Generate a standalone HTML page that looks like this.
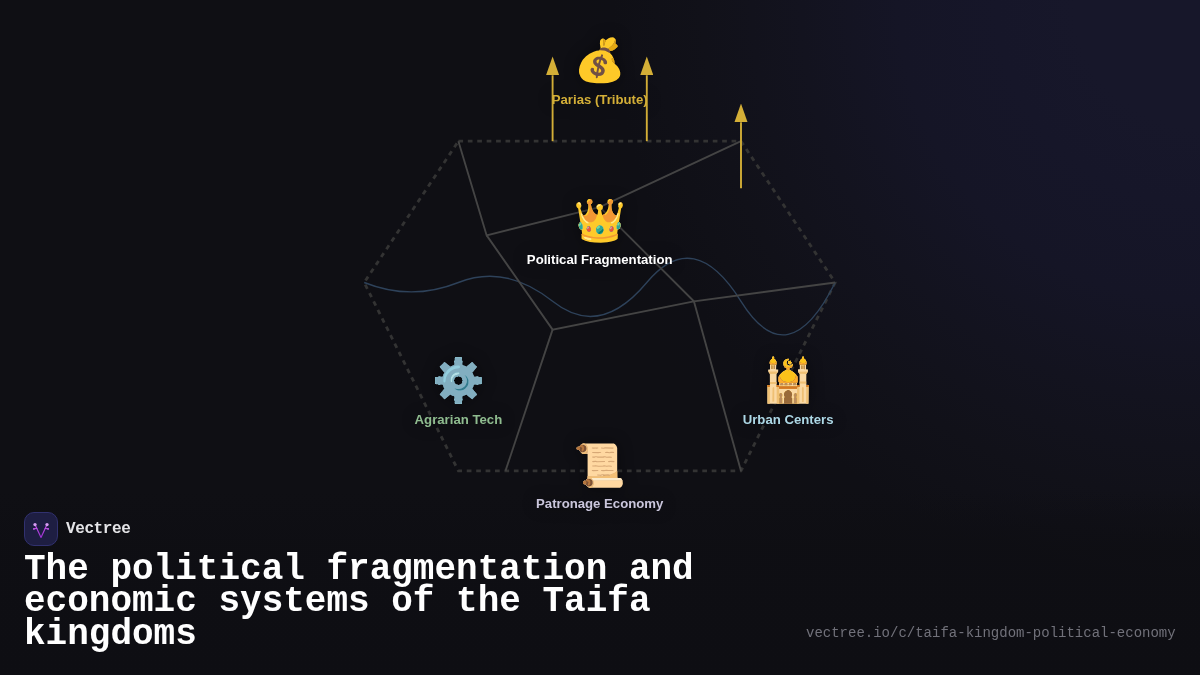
<!DOCTYPE html>
<html lang="en">
<head>
<meta charset="utf-8">
<title>The political fragmentation and economic systems of the Taifa kingdoms</title>
<style>
*{box-sizing:border-box;margin:0;padding:0}
html,body{width:1200px;height:675px;overflow:hidden;background:#0f0f14}
body{position:relative;font-family:"Liberation Sans",Arial,Helvetica,sans-serif}
.bg{position:absolute;left:0;top:0;width:1200px;height:675px;background:
  radial-gradient(circle 700px at 100% 0%, #17172a 0, #17172a 18%, #161629 29%, #151526 43%, #13131f 57%, #111119 71%, #0f0f15 84%, #0f0f14 92%),
  #0f0f14}
.diagram{position:absolute;left:270.3px;top:47.1px;width:659.4px;height:471px;overflow:visible}
.diagram text{text-anchor:middle}
.l{font-family:"Liberation Sans",Arial,Helvetica,sans-serif;font-size:7px;font-weight:700}
.n{filter:drop-shadow(0 0 4px rgba(0,0,0,.45))}
.fade{position:absolute;left:0;right:0;bottom:0;height:185px;background:linear-gradient(to bottom,rgba(14,14,19,0) 0,rgba(14,14,19,.75) 30%,rgba(14,14,19,.95) 100%)}
.brand,h1,.url{will-change:transform}
.brand{position:absolute;left:24px;top:512px;height:34px;display:flex;align-items:center}
.logo{width:34px;height:34px;border-radius:10px;background:#1e1e42;border:1px solid #31316f;display:block;position:relative}
.logo svg{position:absolute;left:6px;top:6px;width:20px;height:20px;overflow:visible}
.brand span{font-family:"Liberation Mono",monospace;font-weight:700;font-size:16px;letter-spacing:-0.4px;color:#e4e4e7;margin-left:8px}
h1{position:absolute;left:24px;top:553.7px;font-family:"Liberation Mono",monospace;font-weight:700;font-size:36px;line-height:32.4px;color:#fff;white-space:nowrap}
.url{position:absolute;right:24px;top:624px;font-family:"Liberation Mono",monospace;font-size:14px;line-height:18px;color:#71717a;white-space:nowrap}
</style>
</head>
<body>
<div class="bg"></div>
<div class="fade"></div>
<svg class="diagram" viewBox="0 0 350 250">
<defs><marker id="ah" markerWidth="10" markerHeight="7" refX="0" refY="3.5" orient="auto"><polygon points="0 0, 10 3.5, 0 7" fill="#d4af37"/></marker></defs>
<g fill="none">
<polygon points="100,50 250,50 300,125 250,225 100,225 50,125" stroke="#333" stroke-width="1.5" stroke-dasharray="2.5,2.5"/>
<path d="M50,125 Q75,135 100,125 T150,135 T200,125 T250,135 T300,125" stroke="#2e425a" stroke-width="0.72"/>
<g stroke="#444" stroke-width="1">
<path d="M100,50 L115,100 L175,85 L250,50"/>
<path d="M115,100 L150,150 L225,135 L300,125"/>
<path d="M175,85 L225,135 L250,225"/>
<path d="M150,150 L125,225"/>
</g>
<g stroke="#d4af37" stroke-width="1">
<line x1="150" y1="50" x2="150" y2="15" marker-end="url(#ah)"/>
<line x1="200" y1="50" x2="200" y2="15" marker-end="url(#ah)"/>
<line x1="250" y1="75" x2="250" y2="40" marker-end="url(#ah)"/>
</g>
</g>
<g class="n"><svg x="161.126" y="-5.958" width="27.749" height="26.117" viewBox="0 0 544 512" role="img" aria-label="💰 money bag" fill-rule="evenodd"><path fill="#fec928" d="M421,20l-11,-4-27 1-19 8-28 21-25,-17-13 0-14 9-8 15-2 30 6 38 4 8-10 10-2 9-6 4-26 4-30 9-44 21-36 26-34 38-16 27-16 39-7 36 0 26 3 18 13 31 11 15 18 17 28 16 43 12 67 8 75 0 41,-4 52,-12 36,-16 27,-23 12,-22 3,-14 0,-21-7,-28-9,-18-14,-19-28,-26-5,-36-8,-25-15,-28-19,-22-2,-19 3,-3 17,-4 26,-13 16,-11 14,-14 3,-8-3,-10-20,-18 4,-36-4,-11z"/><path fill="#715045" d="M401,235l-4 5 3 20 12 18 9 9 6 1-4,-32-5,-17-9,-4zM294,192l-5 2-6 19-5 5-29 0-15 5-19 15-10 15-2 21 5 16 18 21 22 16-10 51-2 2-8,-2-12,-12-3,-7-1,-18-6,-7-17,-1-12 13 0 16 4 12 11 15 16 14 25 12-1 24 4 2 13,-1 5,-21 31,-3 20,-10 7,-7 10,-19 3,-20-7,-22-14,-17-29,-21 12,-44 4,-4 4 1 14 12 3 22 10 9 17 0 8,-6 2,-6-1,-16-5,-12-15,-16-27,-16 7,-25zM266,339l6 1 11 11 4 10 0 10-10 12-15 3-4,-3zM266,246l3 4-13 38-4 0-12,-13-1,-15 15,-13zM437,40l-5 4-9 27-19 28-42 37-19,-9-16,-4-25 0-18 6-10 10-2 9 6 3 36 2 15 4 46 22 6,-1-2,-16 3,-3 35,-12 24,-16 14,-14 3,-8-3,-10-20,-18 4,-21zM319,33l-7 8-4 17 1 29 3 13 4 4 4,-3 4,-22 11,-31z"/><path fill="#e4a811" d="M401,235l-4 5 3 20 12 18 9 9 6 1-4,-32-5,-17-9,-4zM436,39l-4 5-9 27-19 28-41 36 18 24 18,-4 18,-8 24,-16 14,-14 3,-8-3,-10-20,-18 4,-21 0,-15zM319,33l-7 8-4 17 1 29 3 13 4 4 4,-3 4,-22 11,-31z"/></svg><text class="l" x="175" y="30.10" fill="#d4af37">Parias (Tribute)</text></g>
<g class="n"><svg x="161.126" y="79.042" width="27.749" height="26.117" viewBox="0 0 544 512" role="img" aria-label="👑 crown" fill-rule="evenodd"><path fill="#feca2a" d="M35,75l-7 14 0 16 8 16 12 9 22 138-1 5-13 14-3 16 1 12 6 19 11 12 9 3 4 5 5 38-6 8 0 42 6 9 33 15 48 13 50 7 63 2 68,-5 41,-8 38,-12 19,-9 10,-8 2,-45-7,-11 5,-35 4,-7 11,-5 8,-10 5,-11 2,-14-2,-21-14,-19 22,-138 12,-12 6,-18-2,-18-7,-10-10,-5-12 1-11 9-5 9-2 23 7 17-15 60-9 18-5 0-18,-11-12,-14-9,-18-8,-33-1,-39 13,-14 3,-21-6,-12-14,-10-18 0-9 5-10 13 1 23 14 16-10 44-10 23-11 16-15 15-19 11-7,-5-9,-44 16,-16 3,-22-7,-15-16,-12-23 0-11 7-9 11-3 12 3 18 16 17-4 31-5 16-4 1-11,-6-24,-23-17,-33-11,-47 11,-10 5,-12-1,-16-11,-14-15,-5-11 1-8 4-10 13-2 6 2 18 15 17-4 49-7 24-8 16-14 16-16 9-7 0-4,-4-23,-67-1,-8 6,-7 5,-15-5,-22-9,-10-10,-4-13 1z"/><path fill="#f29734" d="M83,400l0 5 35 18-10 7 0 7 9 10 17 8 28 6 21,-2 5,-7-5,-11 5,-2 59 7 53 0 32,-3 67,-13 35,-12 27,-13-7,-14-27 13-68 19-58 7-59 0-35,-3-58,-12-34,-12-24,-12zM402,316l-8 0-11 8-5 9 0 8-5 7 3 18 10 8 9 0 10,-5 10,-14 2,-9-2,-16-3,-6zM157,316l-8 3-7 8-6 15 0 8 10 17 12 7 8 0 6,-3 7,-9 0,-22-8,-19-6,-5zM268,306l-13 8-19 21-2 13 2 22 4 9 11 12 15 6 17 2 14,-8 6,-8-1,-3 8,-18 1,-26-8,-15-8,-8-9,-5zM69,272l-13 15-3 16 1 12 10 24 7 7 13 5 6,-3 5,-8 0,-28-4,-18-6,-7-2,-9zM474,271l-8 1-7 6-5 20-6 10 0 32 5 7 7 3 16,-9 11,-19 2,-14-2,-21zM279,93l-4,-3-9 0-12 5-12 15 2 7 6 3 11,-12 16,-5 3,-5zM497,68l-15 0-11 9-4 7 6 15 5 0 8,-11 11,-6zM53,67l-6 8 1 7 11 6 7 10 5 2 6,-8-6,-7 1,-10-7,-6zM385,32l2 12-14 8-11 13-10,-2 4 14 12 12-4 19 9,-1 3 6-5 29-12 29-24 28-6 1-5,-3 0,-12-16 11-8 2 13 37 21 29 19 11 19 0 19,-5-3 14 4 3 10 0 20,-12 25,-29 14,-29 10,-36-5,-2-10 5-6 17-8 3-18,-11-12,-14-13,-31-5,-33 0,-26 13,-14 3,-21-3,-8-8,-9zM420,252l0 5-20 15-7,-2 3,-5 18,-13zM171,32l3 8-4 7-12 5-9 12-11,-1 2 10 15 17-1 19 7,-2 4 4-3 11 3 7-3 28-6 21-9 16-18 14-7 0-4,-11-17 8-1 5-3 1-6,-6 3,-10-6,-13-8,-3-6 3 11 39 15 29 23 25 25 13 9,-5-2,-12 15 4 18 0 23,-12 15,-17 8,-14 11,-35-13,-6-21,-19-16,-27-8,-22-7,-35 15,-17 1,-16-5,-12-7,-7z"/><path fill="#ffee88" d="M108,430l0 7 9 10 31 12 29 2 6,-2 5,-7-5,-11-34,-7-29,-10zM402,316l-8 0-11 8-5 9 0 8-5 7 3 18 10 8 9 0 10,-5 10,-14 2,-9-2,-16-3,-6zM157,316l-8 3-7 8-6 15 0 8 10 17 12 7 8 0 6,-3 7,-9 0,-22-8,-19-6,-5zM268,306l-13 8-19 21-2 13 2 22 4 9 11 12 15 6 17 2 14,-8 6,-8-1,-3 8,-18 1,-26-8,-15-8,-8-9,-5zM69,272l-13 15-3 16 1 12 10 24 7 7 13 5 6,-3 5,-8 0,-28-4,-18-6,-7-2,-9zM474,271l-8 1-7 6-5 20-6 10 0 32 5 7 7 3 16,-9 11,-19 2,-14-2,-21zM470,180l-4,-1-10 5-7 18 0 7-12 22-17 21 0 5-20 15-8,-1-4 7 2 8 15 0 17,-11 17,-17 19,-33 13,-38zM76,180l-2 2 2 12 9 27 20 36 28 25 15 6 7,-2 2,-7-3,-7-19,-11-16,-16-20,-34-8,-6 3,-10-6,-13zM279,93l-4,-3-9 0-12 5-12 15 2 7 6 3 11,-12 16,-5 3,-5zM497,68l-15 0-11 9-4 7 6 15 5 0 8,-11 11,-6zM53,67l-6 8 1 7 11 6 7 10 5 2 6,-8-6,-7 1,-10-7,-6z"/><path fill="#2ca898" d="M402,316l-8 0-11 8-5 9 0 8-5 7 3 18 10 8 9 0 10,-5 10,-14 2,-9-2,-16-3,-6zM157,316l-8 3-7 8-6 15 0 8 10 17 12 7 8 0 6,-3 7,-9 0,-22-8,-19-6,-5zM268,306l-13 8-19 21-2 13 2 22 4 9 11 12 15 6 17 2 14,-8 6,-8-1,-3 8,-18 1,-26-8,-15-8,-8-9,-5zM69,272l-13 15-3 16 1 12 10 24 7 7 13 5 6,-3 5,-8 0,-28-4,-18-6,-7-2,-9zM474,271l-8 1-7 6-5 20-6 10 0 32 5 7 7 3 16,-9 11,-19 2,-14-2,-21z"/><path fill="#f54f37" d="M310,346l-10,-1-19 19-18 9-7 7 1 13 9 4 8 0 7,-6 4 1 11,-11 7,-2 7,-17zM402,316l-8 0-11 8-5 9 0 8-5 7 3 18 10 8 9 0 10,-5 10,-14 2,-9-2,-16-3,-6zM157,316l-8 3-7 8-6 15 0 8 10 17 12 7 8 0 6,-3 7,-9 0,-22-8,-19-6,-5zM272,316l-9,-5-8 3-13 14 2 14 7 3 17,-10 7,-8 0,-7zM84,285l-12,-2-6 3-7 8-5 1-1 11 9 6 4,-1 17,-19zM480,282l-10,-2-14 10-2 10 7 10 4 0 14,-15z"/><path fill="#5de4ab" d="M310,346l-10,-1-19 19-18 9-7 7 1 13 9 4 8 0 7,-6 4 1 11,-11 7,-2 7,-17zM393,318l-5 1-10 14-1 9 6 5 7 0 9,-11 0,-12zM156,317l-7 2-10 13 0 6 7 6 6,-2 7,-8 2,-9zM272,316l-9,-5-8 3-13 14 2 14 7 3 17,-10 7,-8 0,-7zM84,285l-12,-2-6 3-7 8-5 1-1 11 9 6 4,-1 17,-19zM480,282l-10,-2-14 10-2 10 7 10 4 0 14,-15z"/><path fill="#058073" d="M310,346l-10,-1-19 19-18 9-7 7 1 13 9 4 8 0 7,-6 4 1 11,-11 7,-2 7,-17zM393,318l-5 1-10 14-1 9 6 5 7 0 9,-11 0,-12zM156,317l-7 2-10 13 0 6 7 6 6,-2 7,-8 2,-9z"/><path fill="#fc908a" d="M393,318l-5 1-10 14-1 9 6 5 7 0 9,-11 0,-12zM156,317l-7 2-10 13 0 6 7 6 6,-2 7,-8 2,-9z"/></svg><text class="l" x="175" y="115.10" fill="#ffffff">Political Fragmentation</text></g>
<g class="n"><svg x="86.126" y="164.042" width="27.749" height="26.117" viewBox="0 0 544 512" role="img" aria-label="⚙️ gear" fill-rule="evenodd"><path fill="#82aec0" d="M237,16l-9 75-4 4-36 14-61,-47-47 45-2 4 2 5 39 47 6 11-9 17-4 15-5 6-75 9 0 69 75 9 4 4 14 36-47 61 45 47 4 2 5,-2 47,-39 11,-6 17 9 15 4 6 5 9 75 65 1 4,-1 2,-5 7,-70 4,-4 36,-14 61 47 47,-45 2,-4-2,-5-39,-47-6,-11 9,-17 4,-15 5,-6 75,-9 0,-69-75,-9-4,-4-14,-36 47,-61-45,-47-4,-2-5 2-47 39-11 6-17,-9-15,-4-6,-5-9,-75zM270,210l15 2 13 7 14 16 5 19-2 15-7 13-16 14-19 5-15,-2-13,-7-14,-16-5,-19 2,-15 7,-13 16,-14z"/><path fill="#86b3c5" d="M234,476l2 18 5 2 65,-1 3,-19-5,-5-2 2 1 13-5 5-53 0-4,-3 0,-16-2,-1zM308,434l-3 9 1 19 5 1 2,-25zM236,434l-6 4 2 25 5,-1zM363,408l52 41 13,-10-6,-1-8 3-40,-33zM178,408l-9 0-39 33-15,-2 13 10zM351,398l-3,-1-16 10-6 0-5 8 30,-12zM192,398l3 7 23 10 5,-1-7,-8-13,-3-8,-6zM419,345l-1 5 16 17 20 27 6 3-7 9 1 7 11,-13-2,-5-39,-48zM124,345l-5 2-39 48-2 5 11 13 1,-8-6,-8 21,-22-1,-8 8,-2 7,-7 2,-6 4,-2zM424,323l-7 3-3 8 5 1zM429,303l-7 8 5 9 5,-16zM111,304l11 28 6 3 2,-3-5,-10-6,-3 2,-8-6,-8zM243,290l-1 5 6 6 9 4 10,-1 1,-4-10,-1zM449,292l7 5 24,-2-3,-5-18,-1zM94,291l-28,-1-2 5 23 2zM302,288l-10 8-16 4 0 3 11 2 15,-10zM319,260l-3 0-7 23 8,-4 5,-10zM224,260l-2 11 8 13 7 2-9,-17-1,-9zM308,229l7 13 1 9 5,-1 1,-8-8,-13zM235,229l-9 3-4 12 2 7 3 0 1,-9zM493,218l-7 5 2 2 18 2 0 57-20 4 7 5 18,-3 0,-69zM45,218l-13 3 0 69 18 3 7,-6-11,-2-4 2-5,-3 0,-57 5,-3 4 2 12,-3zM449,219l10 3 19,-1 2,-5-24,-2zM94,218l-7,-4-23 2 1 5 19 1 8,-1zM276,207l0 4 16 4 10 8 0,-7-15,-10zM267,207l-10,-1-9 4-7 6 0 7 10,-8 17,-4zM342,196l-4 3 13 18 9 25 0 27-12 31-15 19-24 17-28 8-23 0-10,-5-17,-3 9 10 20 10 17 3 21 0 29,-9 18,-12 22,-26 9,-24 1,-38-15,-32zM427,191l-5 9 5 7 5 1zM413,177l4 8 7 3-5,-12zM282,172l-6,-3-31 3-23 12-14 14-11 18-5 16-3 27 5 10 8 2 5,-4 5,-30 8,-17 14,-14 12,-7 35,-9 4,-7zM457,101l-1 9 4 4-6 3 0 3-16 16 0 4-14 13 0 5-6 3 1 5 5,-2 39,-48 2,-5zM86,101l-8 10 2 5 39 48 6 0-13,-18-8,-2 1,-8-16,-19-6,-3 5,-6zM321,96l5 8 8,-1 4 6 10 5 3,-1 0,-5zM282,100l-25,-2-27 6-7,-9-16 5-15 8 2 5 3 0 1,-5 6 5-27 17-20 19-25 37-3 1-2,-3 3,-6-6,-2-12 26 1 2 11,-6 2 4-4 6-6 33 0 25 5 7 7 1 8,-5 8,-49 16,-31 32,-33 27,-16 21,-8 36,-4 7,-3 5,-6 0,-13zM428,72l-13,-10-52 41 11 0 11,-10 1,-5 7,-1 21,-17zM116,71l5 2 9,-3 17 15 10 3 2 6 10 9 9 0-46,-39-5,-2zM311,48l-5 1-1 19 3 9 5,-5zM232,48l-2 24 5 5 3,-9-1,-19zM234,35l5 5 2,-1 0,-16 3,-2 55 0 4 5-1 12 2 2 5,-5-3,-19-69 0z"/><path fill="#93cedd" d="M308,483l-5 1-5 7-53 0-7,-7-3 0 1 10 5 2 61 0 5,-2zM312,446l-5 2 0 15 4 0zM231,446l1 17 4 0 1,-15zM283,300l-7 0 0 3 6 2zM261,299l0 6 6,-1 1,-4zM462,293l0 3 18,-1-3,-5zM64,291l0 4 17 1-2,-5zM316,260l-1 7 6 0 0,-6zM224,260l-2 7 6 0-1,-7zM315,244l1 7 5,-1 0,-6zM222,244l0 5 5 2 1,-7zM500,219l1 5 5 3 0 57-5 3-1 5 11,-2 0,-69zM32,221l0 69 12 2 0,-3-7,-5 0,-57 7,-5 0,-3zM462,218l3 3 13 0 2,-5-18,-1zM81,215l-17 1 0 4 15 1zM276,207l0 4 7 0-1,-5zM261,206l0 6 7,-1-1,-4zM342,196l-4 3 13 18 9 25 0 27-12 31-15 19-24 17-28 8-23 0-10,-5-17,-3 9 10 20 10 17 3 21 0 29,-9 18,-12 22,-26 9,-24 1,-38-15,-32zM282,172l-6,-3-31 3-23 12-14 14-11 18-5 16-3 27 5 10 8 2 5,-4 5,-30 8,-17 14,-14 12,-7 35,-9 4,-7zM279,98l-37 2-32 10-33 20-20 19-32 45 1 8-4 6-6 33 0 25 5 7 7 1 8,-5 8,-49 16,-31 32,-33 27,-16 21,-8 36,-4 7,-3 5,-6 0,-13zM308,48l-1 15 5 2-1,-17zM232,48l-1 17 6,-2 0,-14zM235,21l2 7 7,-7 55 0 4 6 5 1-2,-12-69 0z"/><path fill="#347b8d" d="M308,483l-5 1-5 7-53 0-7,-7-3 0 1 10 5 2 61 0 5,-2zM312,446l-5 2 0 15 4 0zM231,446l1 17 4 0 1,-15zM283,300l-7 0 0 3 6 2zM261,299l0 6 6,-1 1,-4zM462,293l0 3 18,-1-3,-5zM64,291l0 4 17 1-2,-5zM316,260l-1 7 6 0 0,-6zM224,260l-2 7 6 0-1,-7zM315,244l1 7 5,-1 0,-6zM222,244l0 5 5 2 1,-7zM500,219l1 5 5 3 0 57-5 3-1 5 11,-2 0,-69zM32,221l0 69 12 2 0,-3-7,-5 0,-57 7,-5 0,-3zM462,218l3 3 13 0 2,-5-18,-1zM81,215l-17 1 0 4 15 1zM276,207l0 4 7 0-1,-5zM261,206l0 6 7,-1-1,-4zM342,196l-4 3 13 18 9 25 0 27-12 31-15 19-24 17-28 8-23 0-10,-5-17,-3 9 10 20 10 17 3 21 0 29,-9 18,-12 22,-26 9,-24 1,-38-15,-32zM282,172l-6,-3-31 3-23 12-14 14-11 18-5 16-3 27 5 10 8 2 5,-4 5,-30 8,-17 14,-14 12,-7 35,-9 4,-7zM308,48l-1 15 5 2-1,-17zM232,48l-1 17 6,-2 0,-14zM235,21l2 7 7,-7 55 0 4 6 5 1-2,-12-69 0z"/><path fill="#b3dfe6" d="M308,483l-5 1-5 7-53 0-7,-7-3 0 1 10 5 2 61 0 5,-2zM312,446l-5 2 0 15 4 0zM231,446l1 17 4 0 1,-15zM283,300l-7 0 0 3 6 2zM261,299l0 6 6,-1 1,-4zM462,293l0 3 18,-1-3,-5zM64,291l0 4 17 1-2,-5zM316,260l-1 7 6 0 0,-6zM224,260l-2 7 6 0-1,-7zM315,244l1 7 5,-1 0,-6zM222,244l0 5 5 2 1,-7zM500,219l1 5 5 3 0 57-5 3-1 5 11,-2 0,-69zM32,221l0 69 12 2 0,-3-7,-5 0,-57 7,-5 0,-3zM462,218l3 3 13 0 2,-5-18,-1zM81,215l-17 1 0 4 15 1zM276,207l0 4 7 0-1,-5zM261,206l0 6 7,-1-1,-4zM338,197l6 9 5,-3-7,-7zM282,172l-6,-3-31 3-23 12-14 14-11 18-5 16-3 27 5 10 8 2 5,-4 5,-30 8,-17 14,-14 12,-7 35,-9 4,-7zM308,48l-1 15 5 2-1,-17zM232,48l-1 17 6,-2 0,-14zM235,21l2 7 7,-7 55 0 4 6 5 1-2,-12-69 0z"/><path fill="#8ab9cc" d="M308,483l-5 1-5 7-53 0-7,-7-3 0 1 10 5 2 61 0 5,-2zM312,446l-5 2 0 15 4 0zM231,446l1 17 4 0 1,-15zM283,300l-7 0 0 3 6 2zM261,299l0 6 6,-1 1,-4zM462,293l0 3 18,-1-3,-5zM64,291l0 4 17 1-2,-5zM316,260l-1 7 6 0 0,-6zM224,260l-2 7 6 0-1,-7zM315,244l1 7 5,-1 0,-6zM222,244l0 5 5 2 1,-7zM500,219l1 5 5 3 0 57-5 3-1 5 11,-2 0,-69zM32,221l0 69 12 2 0,-3-7,-5 0,-57 7,-5 0,-3zM462,218l3 3 13 0 2,-5-18,-1zM81,215l-17 1 0 4 15 1zM276,207l0 4 7 0-1,-5zM261,206l0 6 7,-1-1,-4zM338,197l6 9 5,-3-7,-7zM308,48l-1 15 5 2-1,-17zM232,48l-1 17 6,-2 0,-14zM235,21l2 7 7,-7 55 0 4 6 5 1-2,-12-69 0z"/><path fill="#468899" d="M338,197l6 9 5,-3-7,-7z"/></svg><text class="l" x="100" y="200.10" fill="#8fbc8f">Agrarian Tech</text></g>
<g class="n"><svg x="261.126" y="164.042" width="27.749" height="26.117" viewBox="0 0 544 512" role="img" aria-label="🕌 mosque" fill-rule="evenodd"><path fill="#fad9a4" d="M273,50l2 17-6 11 2 3 9 0 14 9 8,-13 10,-4 0,-4-10,-8-2,-13-5 0-5 4zM110,7l-4 6 2 12-18 18-9 20 3 22 0 52-4 3-13,-1-3 9 1 14 17 23 1 116-2 2-20 0-4 4 0 187 2 2 121 1 302,-1 2,-2 2,-192-25,-4 1,-112 16,-23 1,-22-20,-3 0,-50 3,-6 0,-23-12,-22-14,-11 2,-13-3,-5-5,-3-9 2-4 5 1 13-10 7-12 15-5 18 3 24 0 46-3 3-12 0-4 3 1 24 15 21 0 112-3 3-19 0-4,-3 0,-19 6,-12 3,-23-3,-24-9,-18-33,-34-46,-27 0,-11 23,-12 8,-9 5,-11 2,-14-4,-3-11 12-12 7-16,-1-16,-9-7,-12 1,-18 12,-17 16,-9-8,-5-9 0-16 4-11 7-11 13-5 14 0 22 5 16 8 11 23 14-1 11-44 26-31 31-8 15-4 15 0 28 7 22 0 21-3 3-21 0-3,-3 0,-114 17,-25 0,-19-19,-1-3,-4 4,-78-12,-19-15,-14 3,-5-1,-10-6,-5z"/><path fill="#efc074" d="M270,352l-30 19-11 23 1 16 10 15-10 14 0 58 84 0 0,-58-10,-11 10,-22-3,-22-14,-19-19,-12zM121,322l-4 0-7 10-2 142 3 2 17,-2 0,-144zM426,319l-10 11 0 147 2 2 14,-1 3,-6 0,-143zM61,303l-4 4 0 187 2 2 23 0 1,-172-2,-3 2,-12-1,-6zM463,300l-2 4-1 187 1 5 21 0 2,-2 2,-192zM390,301l-22,-1-3 3 1 9-7 6-176 0-4,-3-2,-13-22 0-2 2 0 186 2 6 56 1 0,-60-7,-8 0,-5 7,-7 0,-19-12,-14-6 0-10 9-3,-1-1,-48 3,-4 180 0 4 5-1 45-3 4-9,-9-8,-1-13 17 0 16 8 8-8 12 0 60 56,-1 2,-11zM360,421l4 3-2 8-6,-3zM182,420l6 5-1 5-4 3-4,-3 0,-7zM83,271l0 19 7 2 62,-2 0,-19-7,-2zM391,265l0 21 70 1 0,-23zM376,163l16 23 3,-2 67 2 15,-22-9,-2zM67,164l15 22 5,-2 7 2 59,-2 14,-19-8,-3-84 0zM435,96l-2 1 0 38 11 2 3,-2 1,-38zM408,97l-1 37 13 2 3,-3 0,-35zM124,96l-3 2 1 36 12 2 2,-2 0,-37zM98,96l-2 2 0 37 12 1 3,-3 0,-35zM273,50l2 17-6 11 2 3 9 0 14 9 8,-13 10,-4 0,-4-10,-8-2,-13-5 0-5 4zM251,33l-11 7-12 15-4 12 0 22 5 16 8 11 23 14-1 11-44 26-31 31-8 15-4 15 0 28 7 22 13 1 5 3-8 10-1 11 3 2 31,-1 2,-2-1,-11-6,-9 5,-3 12 0 5 3-7 13-1 7 4 3 31,-1 1,-12-6,-10 5,-3 14 0 5 3-8 12 2 10 35,-2-1,-10-6,-10 5,-3 17 1-5 9-2 13 35 1 3,-2-1,-7-7,-14 14,-2 7,-21 0,-27-6,-20-13,-18-25,-24-46,-27 0,-11 23,-12 8,-9 5,-11 2,-14-4,-3-11 12-12 7-12 0-14,-5-13,-17 0,-15 7,-14 22,-16-8,-4zM425,5l-8 7 1 13-14 11-12 20 0 30 3 3 3,-2 61 1 3,-6 0,-23-3,-9-9,-13-14,-11 2,-13-3,-5zM113,5l-7 8 2 12-15 14-9 14-3 10 2 21 6 3 60 0 3,-14-1,-15-12,-19-15,-14 3,-5-1,-10-6,-5z"/><path fill="#fcc21a" d="M345,384l-13 17 0 16 8 8-8 12 0 60 31 0 0,-59-2,-6-5,-3 0,-4 5,-4 3,-16-3,-12-8,-8zM193,384l-11 9 1 4-3 5 0 11 8 12-8 13 0 59 31 0 0,-60-7,-8 0,-5 7,-7 0,-19-10,-13zM270,352l-30 19-11 23 1 16 10 15-10 14 0 58 84 0 0,-58-10,-11 10,-22-3,-22-14,-19-19,-12zM58,305l0 16 24,-1 0,-17zM463,300l-1 20 23 0 0,-19zM391,303l-2,-3-21 0-3 3 1 9-7 6-176 0-4,-3-2,-13-22 0-2 18 24 2 2 15 3 3 180 0 3,-2 0,-13 6,-5 19,-1zM435,96l-2 1 0 38 11 2 3,-2 1,-38zM408,97l-1 37 13 2 3,-3 0,-35zM124,96l-3 2 1 36 12 2 2,-2 0,-37zM98,96l-2 2 0 37 12 1 3,-3 0,-35zM273,50l2 17-6 11 2 3 9 0 14 9 8,-13 10,-4 0,-4-10,-8-2,-13-5 0-5 4zM251,33l-11 7-12 15-4 12 0 22 5 16 8 11 23 14-1 11-44 26-31 31-8 15-4 15 0 28 7 22 13 1 5 3-8 10-1 11 3 2 31,-1 2,-2-1,-11-6,-9 5,-3 12 0 5 3-7 13-1 7 4 3 31,-1 1,-12-6,-10 5,-3 14 0 5 3-8 12 2 10 35,-2-1,-10-6,-10 5,-3 17 1-5 9-2 13 35 1 3,-2-1,-7-7,-14 14,-2 7,-21 0,-27-6,-20-13,-18-25,-24-46,-27 0,-11 23,-12 8,-9 5,-11 2,-14-4,-3-11 12-12 7-12 0-14,-5-13,-17 0,-15 7,-14 22,-16-8,-4zM425,5l-8 7 1 13-14 11-12 20 0 30 3 3 3,-2 61 1 3,-6 0,-23-3,-9-9,-13-14,-11 2,-13-3,-5zM113,5l-7 8 2 12-15 14-9 14-3 10 2 21 6 3 60 0 3,-14-1,-15-12,-19-15,-14 3,-5-1,-10-6,-5z"/><path fill="#bb8d5f" d="M345,384l-13 17 0 16 8 8-8 12 0 60 31 0 0,-59-2,-6-5,-3 0,-4 5,-4 3,-16-3,-12-8,-8zM193,384l-11 9 1 4-3 5 0 11 8 12-8 13 0 59 31 0 0,-60-7,-8 0,-5 7,-7 0,-19-10,-13zM270,352l-30 19-11 23 1 16 10 15-10 14 0 58 84 0 0,-58-10,-11 10,-22-3,-22-14,-19-19,-12zM58,305l0 16 24,-1 0,-17zM463,300l-1 20 23 0 0,-19zM391,303l-2,-3-21 0-3 3 1 9-7 6-176 0-4,-3-2,-13-22 0-2 18 24 2 2 15 3 3 180 0 3,-2 0,-13 6,-5 19,-1zM367,210l-10,-12-15 41-10 12-15 11-28 9-31 0-30,-7-21,-13-10,-11-7,-13-7,-26-7 12-4 15 0 28 6 21 19 5-8 10-1 11 3 2 31,-1 2,-2-1,-11-6,-9 5,-3 12 0 5 3-7 13-1 7 4 3 31,-1 1,-12-6,-10 5,-3 14 0 5 3-8 12 2 10 35,-2-1,-10-6,-10 5,-3 17 1-8 19 3 4 35,-1 0,-8-7,-14 14,-2 5,-11 3,-20-1,-17zM318,99l-5 1-13 12-15 5-31,-2-25,-15-1 2 9 14 23 14-1 11 14 6 11,-5-1,-12 23,-12 8,-9zM435,96l-2 1 0 38 11 2 3,-2 1,-38zM408,97l-1 37 13 2 3,-3 0,-35zM124,96l-3 2 1 36 12 2 2,-2 0,-37zM98,96l-2 2 0 37 12 1 3,-3 0,-35zM462,59l-17 13-11 3-22,-2-20,-11 0 24 3 3 3,-2 61 1 3,-6zM82,60l-1 16 3 10 65 1 2,-26-17 11-25 3-11,-4-13,-12z"/><path fill="#996a3a" d="M270,352l-30 19-11 23 1 16 10 15-10 14 0 58 84 0 0,-58-10,-11 10,-22-3,-22-14,-19-19,-12zM58,305l0 16 24,-1 0,-17zM463,300l-1 20 23 0 0,-19zM391,303l-2,-3-21 0-3 3 1 9-7 6-176 0-4,-3-2,-13-22 0-2 18 24 2 2 15 3 3 180 0 3,-2 0,-13 6,-5 19,-1zM371,220l-13,-23-16 42-20 20-16 8-17 4-31 0-30,-7-21,-13-10,-11-7,-13-7,-26-7 12-4 15 0 28 6 21 18 4 169,-2 8,-22zM318,99l-5 1-13 12-15 5-31,-2-25,-15-1 2 9 14 23 14-1 11 14 6 11,-5-1,-12 23,-12 8,-9zM462,59l-17 13-11 3-22,-2-20,-11 0 24 3 3 3,-2 61 1 3,-6zM82,60l-1 16 3 10 65 1 2,-26-17 11-25 3-11,-4-13,-12z"/><path fill="#feac2d" d="M58,305l0 16 24,-1 0,-17zM463,300l-1 20 23 0 0,-19zM391,303l-2,-3-21 0-3 3 1 9-7 6-176 0-4,-3-2,-13-22 0-2 18 24 2 2 15 3 3 180 0 3,-2 0,-13 6,-5 19,-1zM371,220l-13,-23-16 42-20 20-16 8-17 4-31 0-30,-7-21,-13-10,-11-7,-13-7,-26-7 12-4 15 0 28 6 21 18 4 169,-2 8,-22zM318,99l-5 1-13 12-15 5-31,-2-25,-15-1 2 9 14 23 14-1 11 14 6 11,-5-1,-12 23,-12 8,-9zM462,59l-17 13-11 3-22,-2-20,-11 0 24 3 3 3,-2 61 1 3,-6zM82,60l-1 16 3 10 65 1 2,-26-17 11-25 3-11,-4-13,-12z"/><path fill="#d27726" d="M58,305l0 16 24,-1 0,-17zM463,300l-1 20 23 0 0,-19zM391,303l-2,-3-21 0-3 3 1 9-7 6-176 0-4,-3-2,-13-22 0-2 18 24 2 2 15 3 3 180 0 3,-2 0,-13 6,-5 19,-1z"/><path fill="#e09b52" d="M364,314l-4 3 7 7 3,-4z"/></svg><text class="l" x="275" y="200.10" fill="#add8e6">Urban Centers</text></g>
<g class="n"><svg x="161.126" y="209.042" width="27.749" height="26.117" viewBox="0 0 544 512" role="img" aria-label="📜 scroll" fill-rule="evenodd"><path fill="#ffd8a1" d="M37,67l-4 6 2 16 8 7 17 0 7 13 21 22 13 5 42 0 3 2 0 256-14 11-6 12-15,-1-11 9-1 16 7 9 19 1 13 18 17 14 9 4 319 0 9,-4 11,-11 8,-17 2,-12-2,-24-4,-11-12,-15-9,-5-29,-2-3,-4 0,-307-7,-21-15,-18-13,-8-320 0-10 4-16 12-15 19-11,-2z"/><path fill="#d7a876" d="M508,412l-8,-14-10,-8-11,-4-22 0-2,-2-1,-69-28 20-46 19-21,-5-38 2-10,-3-17 0-10 4-34,-2-5 4 2 6 33 4 3 3-7 4-75 1-55,-4 0 26-14 11-6 12-15,-1-11 9-2 11 3 9 5 5 19 1 7 12 23 20 9 4 17 0 1,-4 8,-1 5,-4 11,-18 3,-13-3,-34 4,-2zM284,367l2,-4 11,-4 11 0 5 3-3 6-22 2zM190,306l0 6 3 3 12 1 49,-1 4,-4 0,-4-4,-3-61 0zM285,308l4 7 23 1 20,-3 82 2 3,-4-4,-7-51 0-19,-3-20 3-34 0zM193,262l5 6 43,-2 20 4 71,-3 13 3 21,-3 29 3 4,-3 0,-5-7,-4-23,-2-26 2-26,-3-15 3-43 0-32,-4-10 3-20 0zM194,213l0 5 7 4 30,-3 9 4 85,-2 3,-4-3,-7-81 2-11,-4-35 2zM359,213l0 5 8 4 17,-3 34 3 9,-5-4,-7-30,-3-30 3zM193,167l6 8 20 0 7,-3 16 0 8 3 61 0 15,-3 18 4 51 0 4,-3 0,-5-4,-3-22,-2-27 2-18,-4-14 0-7 3-55 0-20,-4-15 4-21 0zM193,120l3 7 60 1 31,-3 0,-6-4,-3-85 0zM328,119l2 8 28,-1 13 4 17,-4 32 1 3,-3-2,-7-14,-3-19 0-14 4-25,-4-18 2zM190,73l0 5 4 3 14 2 18,-2 15 2 17,-5 0,-5-4,-3-60 0zM286,73l0 5 4 3 22 2 17,-4 79 3 9,-5 0,-4-4,-3-87,-2-13 3-23,-1zM33,73l2 16 8 7 17 0 7 13 21 22 13 5 44,-1 3,-31-2,-36-9,-22-11,-12-9,-1-3,-5-19 1-22 15-15 19-11,-2-7 3z"/><path fill="#f2be75" d="M508,412l-8,-14-10,-8-11,-4-22 0-2,-2-1,-69-28 20-30 14-15 4-2 7-7 4-14 0-8,-4-16 3-20,-3-4 8-22 2-5,-3-7 4-75 1-55,-4 0 26-14 11-6 12-15,-1-11 9-2 11 3 9 5 5 19 1 7 12 23 20 9 4 17 0 1,-4 8,-1 5,-4 11,-18 3,-13-3,-34 4,-2zM99,28l-10 4-16 12-15 19-11,-2-7 3-7 9 0 13 10 10 17 0 7 13 21 22 13 5 20 0 13,-15 5,-11 9,-6-2,-36-9,-22-11,-12-9,-1-3,-5z"/><path fill="#fceaca" d="M100,425l-2 11 3 9 7 6 17 0 7 12 15 13 19,-2 18,-7 7,-6 8,-14 0,-25-4,-9-10,-11-12,-6-27,-2-14 11-6 12-15,-1zM508,412l-8,-14-10,-8-11,-4-22 0-2,-2-3 2-266 1 20 25zM312,361l1 6 9 0 2,-3-8,-4zM83,37l-17 14-8 12-11,-2-7 3-7 9 0 13 10 10 17 0 4 9 12 14 25 0 14,-5 11,-9 8,-16 1,-15-5,-15-9,-11-19,-8-15 2z"/><path fill="#7f5233" d="M100,425l-2 11 3 9 7 6 17 0 7 12 15 13 19,-2 18,-7 7,-6 8,-14 0,-25-4,-9-10,-11-12,-6-27,-2-14 11-6 12-15,-1zM312,361l1 6 9 0 2,-3-8,-4zM83,37l-17 14-8 12-11,-2-7 3-7 9 0 13 10 10 17 0 4 9 12 14 25 0 14,-5 11,-9 8,-16 1,-15-5,-15-9,-11-19,-8-15 2z"/><path fill="#b7773e" d="M111,416l-11 9-1 16 9 10 18 0 7,-10 1,-11-8,-13zM139,399l-9 10 2 7 8 6 10 2 5 6 0 7-7 14 5 13 7 2 10,-11 4,-10 0,-23-4,-10-10,-10zM312,361l1 6 9 0 2,-3-8,-4zM40,64l-7 9 0 13 10 10 18 0 7,-12-2,-15-7,-7-5,-1zM83,37l-18 16 4 12 11 2 8 6 2 7-7 16 5 14 6 1 12,-14 3,-12-1,-18-5,-12z"/><path fill="#f2c78e" d="M312,361l1 6 9 0 2,-3-8,-4z"/></svg><text class="l" x="175" y="244.65" fill="#cac6dc">Patronage Economy</text></g>
</svg>
<div class="brand"><i class="logo"><svg viewBox="0 0 20 20" role="img" aria-label="Vectree logo"><defs><linearGradient id="vg" x1="0" y1="0" x2="0" y2="1"><stop offset="0" stop-color="#c652ec"/><stop offset="1" stop-color="#9a2fd0"/></linearGradient></defs><g fill="none" stroke="url(#vg)" stroke-width="1.15" stroke-linecap="round" stroke-linejoin="round"><path d="M4.1,5.8 L10,18.4 L15.9,5.8"/><path d="M5.8,9.5 L2.9,9.9"/><path d="M14.2,9.5 L17.1,9.9"/></g><circle cx="4" cy="5.6" r="1.65" fill="#d79cf2"/><circle cx="16" cy="5.6" r="1.65" fill="#d79cf2"/><circle cx="2.9" cy="9.9" r=".85" fill="#c85aea"/><circle cx="17.1" cy="9.9" r=".85" fill="#c85aea"/></svg></i><span>Vectree</span></div>
<h1>The political fragmentation and<br>economic systems of the Taifa<br>kingdoms</h1>
<div class="url">vectree.io/c/taifa-kingdom-political-economy</div>
</body>
</html>
